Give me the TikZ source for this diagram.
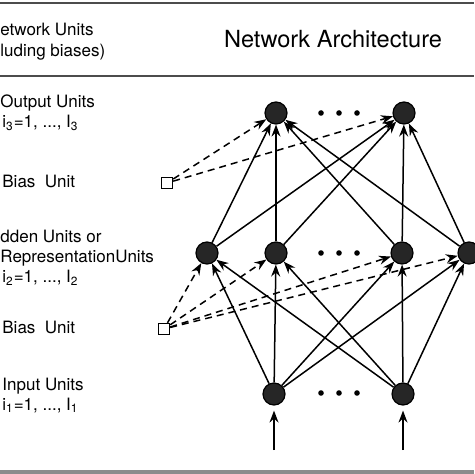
\documentclass[tikz,border=0pt]{standalone}
\usepackage{fontspec}
\setmainfont{TeX Gyre Heros}
\usetikzlibrary{arrows.meta}

\begin{document}
\begin{tikzpicture}[x=0.5pt,y=-0.5pt,
    unit/.style={circle,fill=black!85,draw=black,line width=0.6pt,minimum size=11pt,inner sep=0pt},
    biasbox/.style={rectangle,draw,line width=0.7pt,minimum size=5.5pt,inner sep=0pt},
    lbl/.style={anchor=base west,inner sep=0pt,font=\fontsize{8.5}{10}\selectfont},
    conn/.style={-{Stealth[length=6pt,width=4.5pt,inset=2pt]},line width=0.75pt},
    bconn/.style={conn,dash pattern=on 3.5pt off 2.5pt},
    rule/.style={black!70,line width=1pt}]
    \useasboundingbox (0,0) rectangle (474,474);
    % frame lines
    \draw[rule] (0,3) -- (474,3);
    \draw[rule] (0,76) -- (474,76);
    \draw[black!45,line width=2pt] (0,472) -- (474,472);
    % column heads
    \node[lbl] (hd1) at (0,36) {etwork Units};
    \node[lbl] (hd2) at (0,57) {luding biases)};
    \node[anchor=base,inner sep=0pt,font=\fontsize{11.8}{14}\selectfont] (hd3) at (333,48) {Network Architecture};
    % layer labels
    \node[lbl] (lo1) at (0,108) {Output Units};
    \node[lbl] (lo2) at (2,128) {i\textsubscript{3}=1, ..., I\textsubscript{3}};
    \node[lbl] (lb1) at (2,188) {Bias\ \ Unit};
    \node[lbl] (lh1) at (0,243) {dden Units or};
    \node[lbl] (lh2) at (0,263) {RepresentationUnits};
    \node[lbl] (lh3) at (2,283) {i\textsubscript{2}=1, ..., I\textsubscript{2}};
    \node[lbl] (lb2) at (2,333) {Bias\ \ Unit};
    \node[lbl] (li1) at (2,390) {Input Units};
    \node[lbl] (li2) at (2,410) {i\textsubscript{1}=1, ..., I\textsubscript{1}};
    % units
    \node[unit] (o1) at (276,113) {};
    \node[unit] (o2) at (404,113) {};
    \node[unit] (h1) at (207,253) {};
    \node[unit] (h2) at (276,253) {};
    \node[unit] (h3) at (402,253) {};
    \node[unit] (h4) at (469,253) {};
    \node[unit] (i1) at (274,394) {};
    \node[unit] (i2) at (403,394) {};
    \node[biasbox] (b1) at (167,183) {};
    \node[biasbox] (b2) at (164,329) {};
    \coordinate (s1) at (274,450);
    \coordinate (s2) at (403,450);
    % dots
    \foreach \y in {113,253,393}
        \foreach \x in {321,339,357}
            \fill (\x,\y) circle (1.4pt);
    % connections
    \path[conn] (h1) edge (o1) edge (o2)
                (h2) edge (o1) edge (o2)
                (h3) edge (o1) edge (o2)
                (h4) edge (o1) edge (o2)
                (i1) edge (h1) edge (h2) edge (h3) edge (h4)
                (i2) edge (h1) edge (h2) edge (h3) edge (h4);
    \path[bconn] (b1) edge (o1) edge (o2)
                 (b2) edge (h1) edge (h2) edge (h3) edge (h4);
    \path[conn,shorten >=2.5pt] (s1) edge (i1)
                                (s2) edge (i2);
\end{tikzpicture}
\end{document}
